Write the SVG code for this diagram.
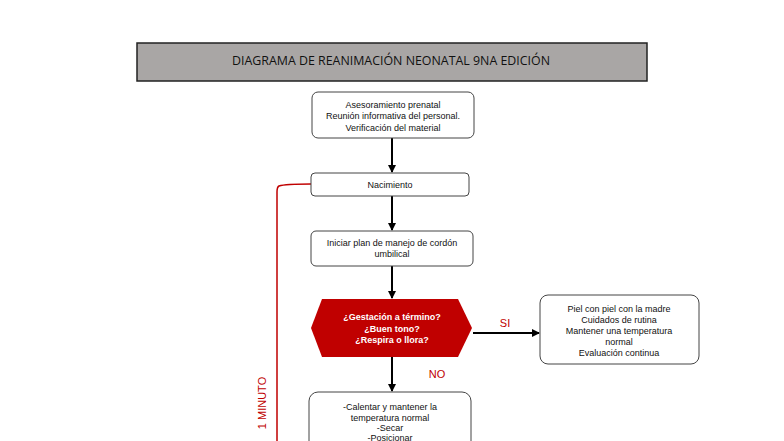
<svg xmlns="http://www.w3.org/2000/svg" width="784" height="441" viewBox="0 0 784 441">
<style>
.box{fill:#fff;stroke:#444;stroke-width:1}
.t{font-family:"Liberation Sans",Arial,sans-serif;font-size:9px;fill:#111;text-anchor:middle}
.tw{font-family:"Liberation Sans",Arial,sans-serif;font-size:9px;font-weight:bold;fill:#fff;text-anchor:middle}
.red{font-family:"Liberation Sans",Arial,sans-serif;font-size:11px;fill:#c00000;text-anchor:middle}
.conn{stroke:#000;stroke-width:2;fill:none}
</style>
<defs>
<marker id="ah" markerWidth="8" markerHeight="8" refX="7" refY="4" orient="auto" markerUnits="userSpaceOnUse">
<path d="M0,0 L8,4 L0,8 Z" fill="#000"/>
</marker>
</defs>
<rect width="784" height="441" fill="#fff"/>
<g id="title">
<rect x="137" y="43" width="510" height="38" fill="#a9a6a5" stroke="#222" stroke-width="1.5"/>
<text x="391" y="64.5" font-family="'Open Sans','Liberation Sans',sans-serif" font-size="12.4" fill="#111" text-anchor="middle">DIAGRAMA DE REANIMACIÓN NEONATAL 9NA EDICIÓN</text>
</g>
<g id="connectors">
<line class="conn" x1="392" y1="138" x2="392" y2="172" marker-end="url(#ah)"/>
<line class="conn" x1="392" y1="196" x2="392" y2="230" marker-end="url(#ah)"/>
<line class="conn" x1="392" y1="266" x2="392" y2="298" marker-end="url(#ah)"/>
<line class="conn" x1="392" y1="357" x2="392" y2="391" marker-end="url(#ah)"/>
<line class="conn" x1="473" y1="333" x2="539" y2="333" marker-end="url(#ah)"/>
<path d="M311,184 C300,184 285,184 279,186 Q277,187 277,192 L277,441" fill="none" stroke="#c00000" stroke-width="1.5"/>
<text class="red" x="505" y="327">SI</text>
<text class="red" x="437" y="378">NO</text>
<text class="red" x="0" y="0" font-size="12" transform="translate(266,403) rotate(-90)">1 MINUTO</text>
</g>
<g id="n1">
<rect class="box" x="312" y="92" width="162" height="46" rx="6"/>
<text class="t" x="393" y="107.5">Asesoramiento prenatal</text>
<text class="t" x="393" y="119">Reunión informativa del personal.</text>
<text class="t" x="393" y="130.5">Verificación del material</text>
</g>
<g id="n2">
<rect class="box" x="311" y="173" width="158" height="23" rx="4"/>
<text class="t" x="390" y="188">Nacimiento</text>
</g>
<g id="n3">
<rect class="box" x="311" y="231" width="162" height="35" rx="5"/>
<text class="t" x="392" y="245.5">Iniciar plan de manejo de cordón</text>
<text class="t" x="392" y="257">umbilical</text>
</g>
<g id="n4">
<polygon points="311,328 322,299 458,299 472,328 458,357 322,357" fill="#c00000"/>
<text class="tw" x="392" y="320">¿Gestación a término?</text>
<text class="tw" x="392" y="331.5">¿Buen tono?</text>
<text class="tw" x="392" y="343">¿Respira o llora?</text>
</g>
<g id="n5">
<rect class="box" x="540" y="295" width="159" height="69" rx="8"/>
<text class="t" x="619" y="311.5">Piel con piel con la madre</text>
<text class="t" x="619" y="322.5">Cuidados de rutina</text>
<text class="t" x="619" y="334">Mantener una temperatura</text>
<text class="t" x="619" y="345">normal</text>
<text class="t" x="619" y="356">Evaluación continua</text>
</g>
<g id="n6">
<rect class="box" x="309" y="392" width="162" height="70" rx="9"/>
<text class="t" x="390" y="410">-Calentar y mantener la</text>
<text class="t" x="390" y="420.5">temperatura normal</text>
<text class="t" x="390" y="431">-Secar</text>
<text class="t" x="390" y="441">-Posicionar</text>
</g>
</svg>
